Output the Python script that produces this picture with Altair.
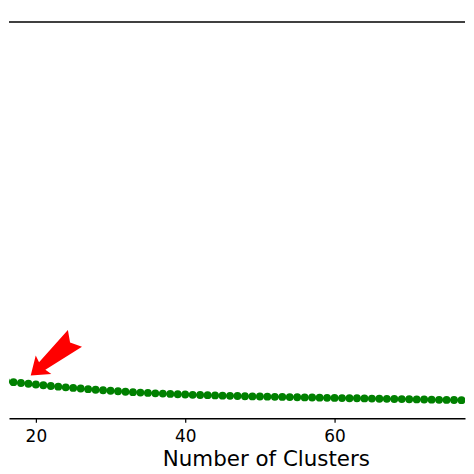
import altair as alt
import pandas as pd

clusters = list(range(15, 79))
score = [
    9.50, 9.30, 9.10, 8.90, 8.69, 8.52, 8.32, 8.14, 7.97, 7.79,
    7.64, 7.49, 7.34, 7.19, 7.06, 6.93, 6.81, 6.68, 6.58, 6.48,
    6.38, 6.28, 6.21, 6.13, 6.06, 5.98, 5.91, 5.86, 5.81, 5.76,
    5.70, 5.65, 5.60, 5.55, 5.50, 5.48, 5.44, 5.40, 5.37, 5.33,
    5.29, 5.25, 5.23, 5.19, 5.15, 5.13, 5.09, 5.05, 5.03, 4.99,
    4.95, 4.92, 4.89, 4.85, 4.83, 4.79, 4.75, 4.72, 4.69, 4.65,
    4.62, 4.59, 4.56, 4.52,
]
tick_values = [20, 40, 60]
x_domain = [16.4, 77.47]
y_domain = [0, 100]

# annotation arrow (centre position in data units, direction in degrees)
arrow_x = [22.27]
arrow_y = [15.45]
arrow_angle = [140]

df = pd.DataFrame({"k": clusters, "v": score})
arrow_df = pd.DataFrame({"x": arrow_x, "y": arrow_y, "a": arrow_angle})

xs = alt.Scale(domain=x_domain, nice=False, zero=False)
ys = alt.Scale(domain=y_domain, nice=False, zero=False)

x_axis = alt.Axis(
    values=tick_values, title="Number of Clusters", grid=False,
    tickSize=4, tickColor="black", tickWidth=1.2, domainColor="black", domainWidth=1.6,
    labelFont="DejaVu Sans", labelFontSize=17, labelColor="black", labelPadding=6,
    titleFont="DejaVu Sans", titleFontSize=21.5, titleFontWeight="normal",
    titleColor="black", titleX=258, titleY=47, titleBaseline="alphabetic",
    titleAlign="center", titleAnchor="start",
)

line = alt.Chart(df).mark_line(color="green", strokeWidth=2, clip=True).encode(
    x=alt.X("k:Q", scale=xs, axis=x_axis),
    y=alt.Y("v:Q", scale=ys, axis=None),
)
pts = alt.Chart(df).mark_point(filled=True, color="green", size=62, opacity=1, clip=True).encode(
    x=alt.X("k:Q", scale=xs),
    y=alt.Y("v:Q", scale=ys),
)

arrow_path = "M1,0 L0.42,-0.42 L0.48,-0.17 L-1,-0.38 L-0.78,0 L-1,0.38 L0.48,0.17 L0.42,0.42 Z"
arrow = alt.Chart(arrow_df).mark_point(
    shape=arrow_path, filled=True, color="red", opacity=1, size=3364, strokeWidth=0
).encode(
    x=alt.X("x:Q", scale=xs),
    y=alt.Y("y:Q", scale=ys),
    angle=alt.Angle("a:Q", scale=None),
)

top = alt.Chart(arrow_df).mark_rule(color="black", strokeWidth=1.6).encode(
    x=alt.value(0), x2=alt.value(458), y=alt.value(0)
)

chart = alt.layer(line, pts, arrow, top).properties(
    width=458, height=398, background="white",
    padding={"top": 12, "left": 0, "right": 0, "bottom": 2},
).configure_view(strokeWidth=0, stroke="transparent")

chart.save("out.html", embed_options={"renderer": "svg", "actions": False})
